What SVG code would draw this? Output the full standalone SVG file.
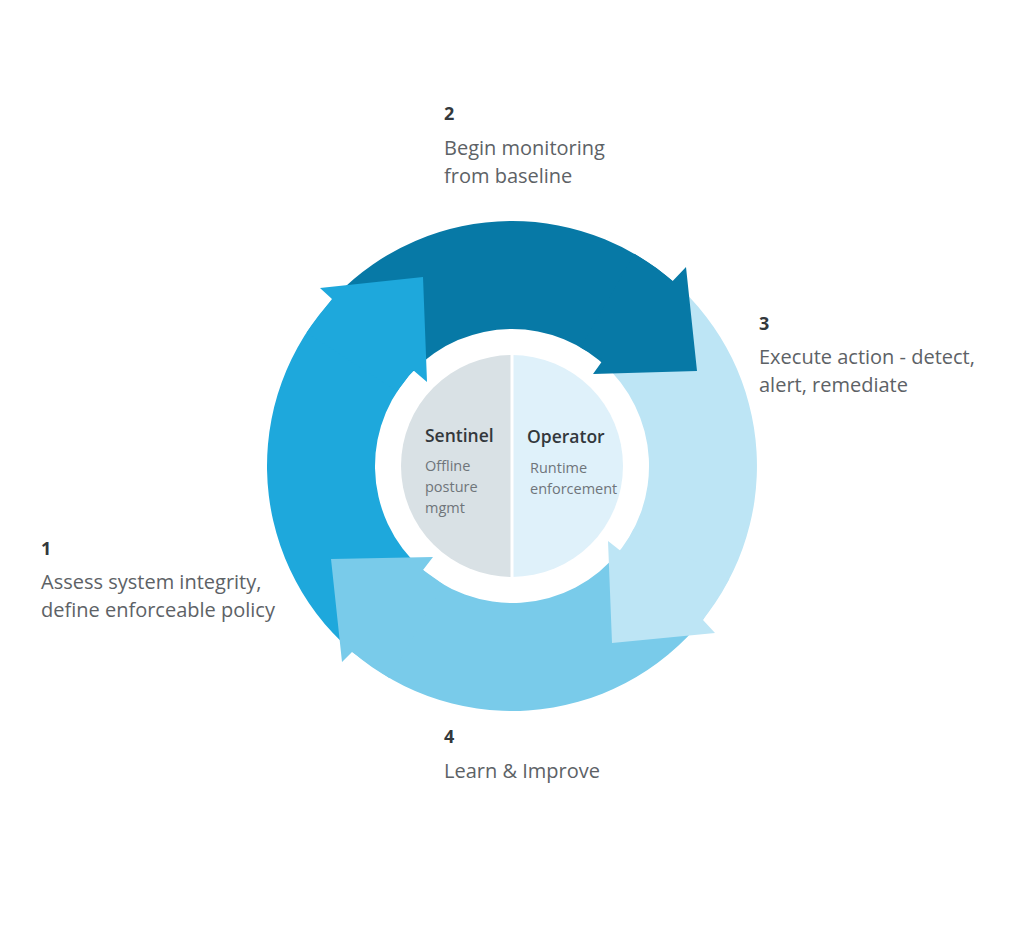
<svg xmlns="http://www.w3.org/2000/svg" width="1024" height="931" viewBox="0 0 1024 931">
<style>
.num{font-family:"Open Sans","Liberation Sans",sans-serif;font-weight:bold;font-size:18px;fill:#33383c}
.lbl{font-family:"Open Sans","Liberation Sans",sans-serif;font-size:20px;fill:#5d6266}
.ttl{font-family:"Open Sans","Liberation Sans",sans-serif;font-weight:600;font-size:17.5px;fill:#33383c}
.sub{font-family:"Open Sans","Liberation Sans",sans-serif;font-size:14.5px;fill:#6f757a}
.a1{fill:#1ea8dc}.a2{fill:#0779a6}.a3{fill:#bde5f5}.a4{fill:#79cbea}
</style>
<rect width="1024" height="931" fill="#fff"/>
<g id="connectors">
<path class="a1" d="M351.3,650.9 A245,245 0 0 1 344.9,286.8 L418.6,365.8 A137,137 0 0 0 422.1,569.4 Z"/>
<path class="a2" d="M335.8,295.8 A245,245 0 0 1 685.2,292.8 L608.9,369.1 A137,137 0 0 0 413.5,370.8 Z"/>
<path class="a3" d="M672.7,281.1 A245,245 0 0 1 692.6,631.5 L613,558.6 A137,137 0 0 0 601.9,362.6 Z"/>
<path class="a4" d="M703.7,618.5 A245,245 0 0 1 341.8,642.2 L416.8,564.5 A137,137 0 0 0 619.2,551.3 Z"/>
<polygon class="a1" points="320,288 423,277 427,382 413,370 397.1,391.4 306.5,332.6 332,299"/>
<polygon class="a2" points="686,267 697,371 593,374 603,360 580.5,347.4 634.5,253.8 656,267.8 672.7,281.1"/>
<polygon class="a3" points="715,633 612,643 608,541 622,552 633.5,529.3 729.3,579.1 703,620"/>
<polygon class="a4" points="342,662 331,559 433,557 423,570 443.5,584.6 389.5,678.2 352,652"/>
</g>
<g id="sentinel">
<path d="M512,355 A111,111 0 0 0 512,577 Z" fill="#d9e1e5"/>
<text class="ttl" x="425" y="442">Sentinel</text>
<text class="sub" x="425" y="471">Offline</text>
<text class="sub" x="425" y="492">posture</text>
<text class="sub" x="425" y="513">mgmt</text>
</g>
<g id="operator">
<path d="M512,355 A111,111 0 0 1 512,577 Z" fill="#dff1fa"/>
<text class="ttl" x="527" y="443">Operator</text>
<text class="sub" x="530" y="473">Runtime</text>
<text class="sub" x="530" y="494">enforcement</text>
</g>
<rect x="510.5" y="352" width="3" height="228" fill="#fff"/>
<g id="step1"><text class="num" x="41" y="555">1</text><text class="lbl" x="41" y="589">Assess system integrity,</text><text class="lbl" x="41" y="617">define enforceable policy</text></g>
<g id="step2"><text class="num" x="444" y="120">2</text><text class="lbl" x="444" y="155">Begin monitoring</text><text class="lbl" x="444" y="183">from baseline</text></g>
<g id="step3"><text class="num" x="759" y="330">3</text><text class="lbl" x="759" y="364">Execute action - detect,</text><text class="lbl" x="759" y="392">alert, remediate</text></g>
<g id="step4"><text class="num" x="444" y="743">4</text><text class="lbl" x="444" y="778">Learn &amp; Improve</text></g>
</svg>
